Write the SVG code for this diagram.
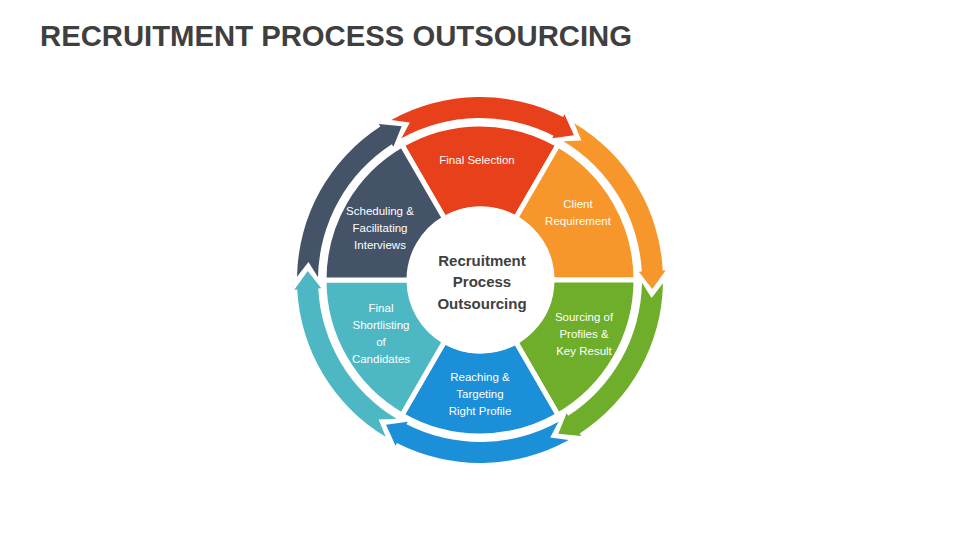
<svg xmlns="http://www.w3.org/2000/svg" width="960" height="540" viewBox="0 0 960 540">
<defs>
<style>
.t{font-family:"Liberation Sans",Arial,sans-serif;font-size:11.5px;fill:#fff;text-anchor:middle}
.c{font-family:"Liberation Sans",Arial,sans-serif;font-size:15px;font-weight:bold;fill:#404040;text-anchor:middle}
.seg{stroke:#fff;stroke-width:5;stroke-linejoin:round}
</style>
<path id="arr" d="M662.97 283.19 A183 183 0 0 1 579.67 433.48 L581.3 435.99 L558.31 433.7 L566.6 413.35 L568.23 415.86 A162 162 0 0 0 641.98 282.83 L651.55 298.03 Z"/>
<path id="sec" d="M551 280 L636 280 A156 156 0 0 1 558 415.1 L515.5 341.49 A71 71 0 0 0 551 280 Z"/>
</defs>
<rect width="960" height="540" fill="#fff"/>
<text x="40" y="46" font-family="'Liberation Sans',Arial,sans-serif" font-size="29" font-weight="bold" fill="#3F3F3F" textLength="592" lengthAdjust="spacingAndGlyphs">RECRUITMENT PROCESS OUTSOURCING</text>
<g id="connectors">
<use href="#arr" fill="#E8401A" transform="rotate(-120 480 280)"/>
<use href="#arr" fill="#F7962A" transform="rotate(-60 480 280)"/>
<use href="#arr" fill="#6EAE2B"/>
<use href="#arr" fill="#1B8FD8" transform="rotate(60 480 280)"/>
<use href="#arr" fill="#4DB8C3" transform="rotate(120 480 280)"/>
<use href="#arr" fill="#445368" transform="rotate(180 480 280)"/>
</g>
<g id="n-final-selection"><use href="#sec" class="seg" fill="#E8401A" transform="rotate(-120 480 280)"/><text class="t" x="477" y="164">Final Selection</text></g>
<g id="n-client"><use href="#sec" class="seg" fill="#F7962A" transform="rotate(-60 480 280)"/><text class="t" x="578" y="208">Client</text><text class="t" x="578" y="225">Requirement</text></g>
<g id="n-sourcing"><use href="#sec" class="seg" fill="#6EAE2B"/><text class="t" x="584" y="321">Sourcing of</text><text class="t" x="584" y="338">Profiles &amp;</text><text class="t" x="584" y="355">Key Result</text></g>
<g id="n-reaching"><use href="#sec" class="seg" fill="#1B8FD8" transform="rotate(60 480 280)"/><text class="t" x="480" y="381">Reaching &amp;</text><text class="t" x="480" y="398">Targeting</text><text class="t" x="480" y="415">Right Profile</text></g>
<g id="n-shortlisting"><use href="#sec" class="seg" fill="#4DB8C3" transform="rotate(120 480 280)"/><text class="t" x="381" y="312">Final</text><text class="t" x="381" y="329">Shortlisting</text><text class="t" x="381" y="346">of</text><text class="t" x="381" y="363">Candidates</text></g>
<g id="n-scheduling"><use href="#sec" class="seg" fill="#445368" transform="rotate(180 480 280)"/><text class="t" x="380" y="215">Scheduling &amp;</text><text class="t" x="380" y="232">Facilitating</text><text class="t" x="380" y="249">Interviews</text></g>
<g id="n-center"><circle cx="481" cy="280" r="71" fill="#fff" stroke="#fff" stroke-width="5"/><text class="c" x="482" y="266">Recruitment</text><text class="c" x="482" y="287">Process</text><text class="c" x="482" y="309">Outsourcing</text></g>
</svg>
